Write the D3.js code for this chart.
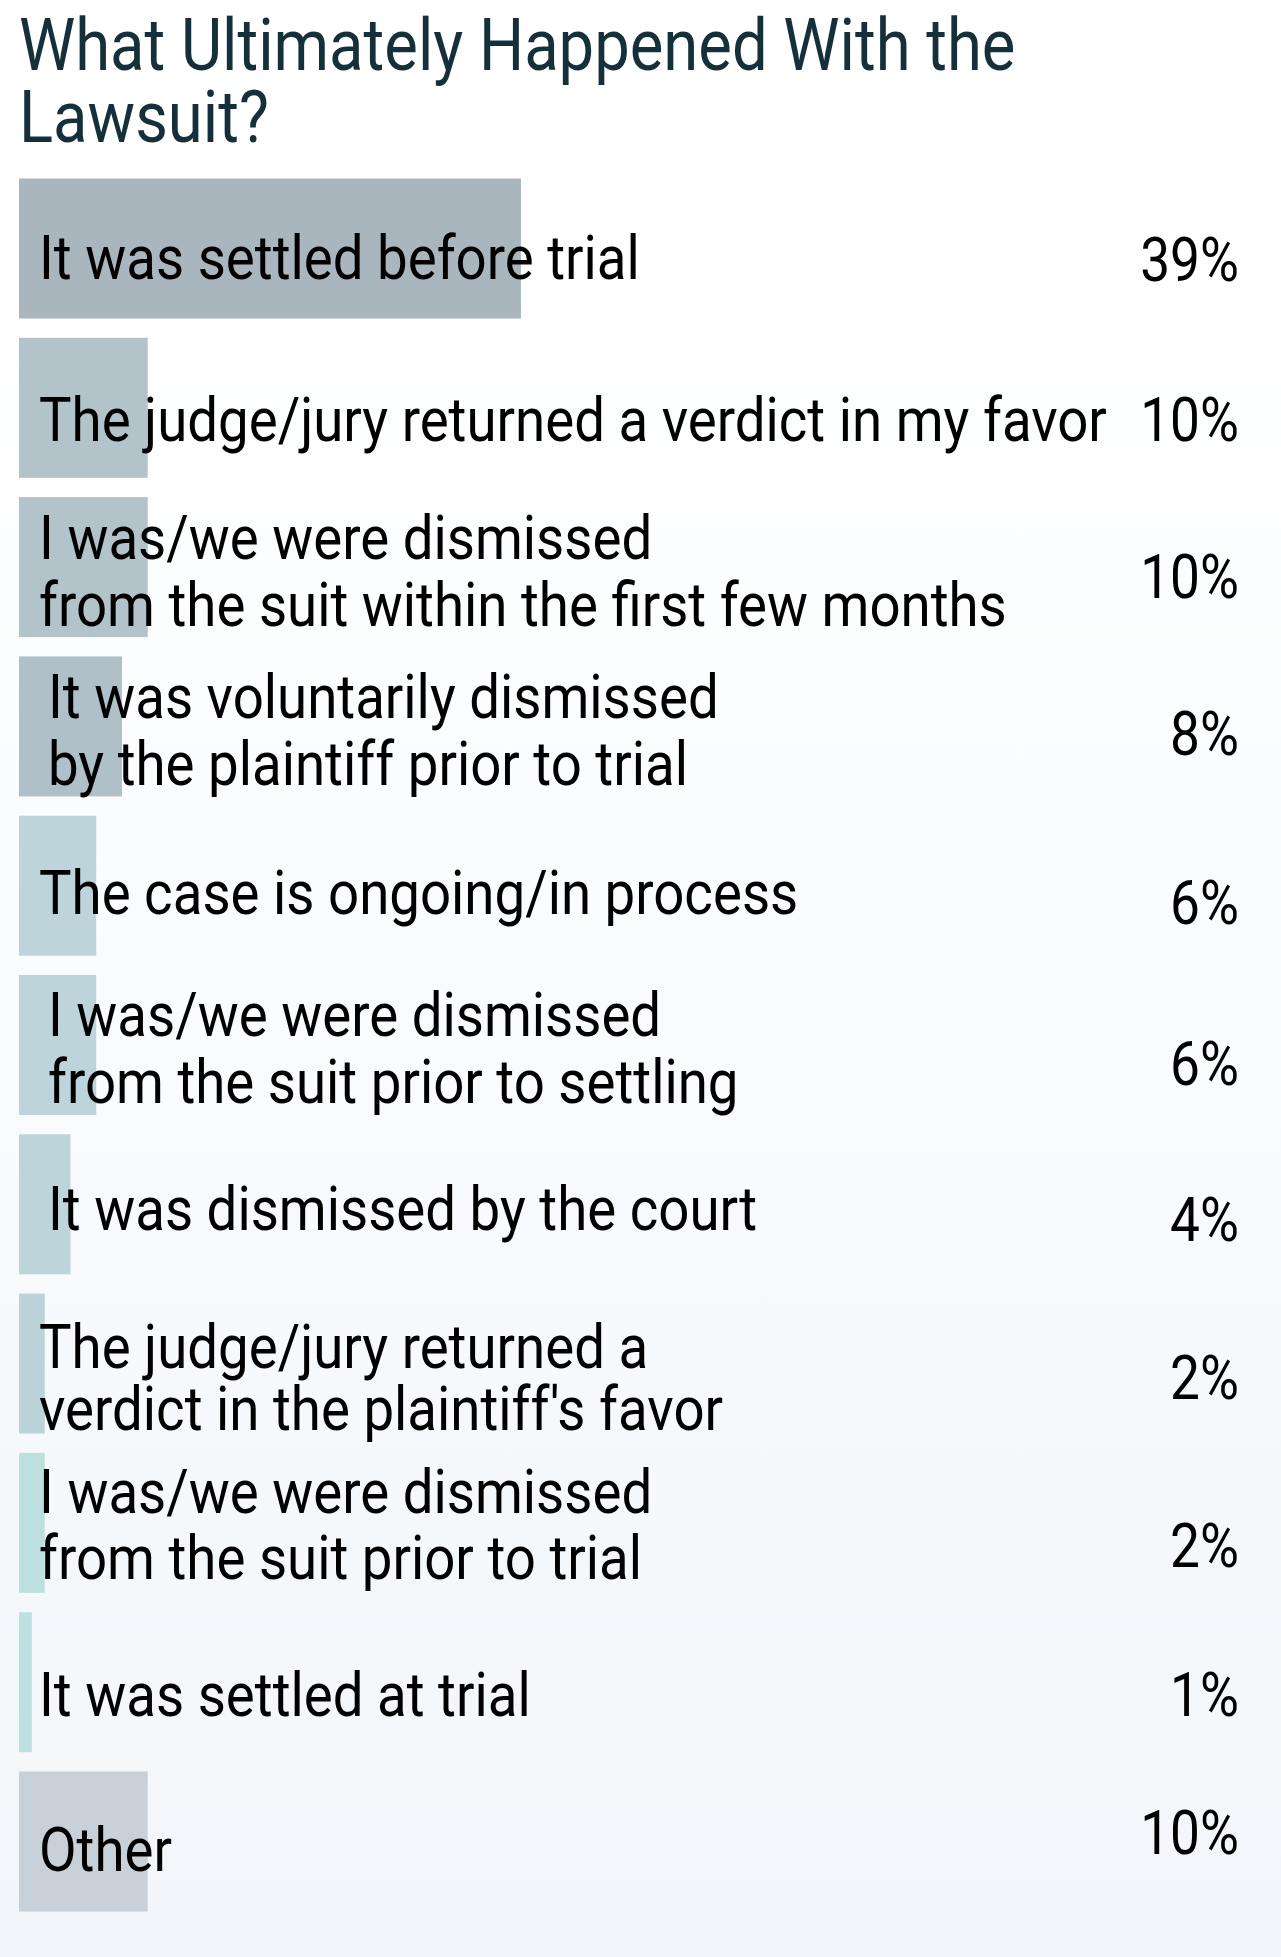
<!DOCTYPE html>
<html>
<head>
  <meta charset="utf-8">
  <title>What Ultimately Happened With the Lawsuit?</title>
  <script src="https://cdn.jsdelivr.net/npm/d3@7/dist/d3.min.js"></script>
  <style>
    body { margin: 0; background: #fff; }
    svg { display: block; }
    text { font-family: Roboto, "Noto Sans", sans-serif; }
    .title { fill: #15303b; font-size: 72px; }
    .label, .pct { fill: #000; font-size: 61px; }
  </style>
</head>
<body>
  <svg id="chart"></svg>
  <script>
    // answers, top to bottom (leading spaces are in the original labels)
    var categories = [
      'It was settled before trial',
      'The judge/jury returned a verdict in my favor',
      'I was/we were dismissed\nfrom the suit within the first few months',
      ' It was voluntarily dismissed\n by the plaintiff prior to trial',
      'The case is ongoing/in process',
      ' I was/we were dismissed\n from the suit prior to settling',
      ' It was dismissed by the court',
      'The judge/jury returned a\nverdict in the plaintiff\'s favor',
      'I was/we were dismissed\nfrom the suit prior to trial',
      'It was settled at trial',
      'Other'
    ];
    var values = [39, 10, 10, 8, 6, 6, 4, 2, 2, 1, 10];
    var valueLabels = ['39%', '10%', '10%', '8%', '6%', '6%', '4%', '2%', '2%', '1%', '10%'];

    var barColors = ['#a9b6be', '#b2c3ca', '#b3c3ca', '#afc0c8', '#bcd4da', '#bcd4da',
      '#bcd4da', '#bcd3da', '#bde0df', '#bde0e0', '#c8d0d8'];
    // baseline of first label line / value label, measured from the bar top
    var labelDy = [100, 103, 62, 62, 98, 61, 96, 74, 60, 104, 100];
    var lineGap = [67, 67, 67, 67, 67, 67, 67, 62, 66, 67, 67];
    var pctDy = [102, 103, 101, 99, 108, 110, 107, 105, 114, 104, 83];

    var W = 1281, H = 1957;
    var squeeze = 0.895, titleSqueeze = 0.88, pctSqueeze = 0.873;

    var svg = d3.select('#chart')
      .attr('width', W)
      .attr('height', H);

    var grad = svg.append('defs').append('linearGradient')
      .attr('id', 'bg')
      .attr('x1', 0).attr('y1', 0).attr('x2', 0).attr('y2', 1);
    grad.append('stop').attr('offset', '0.12').attr('stop-color', '#ffffff');
    grad.append('stop').attr('offset', '1').attr('stop-color', '#f2f6fa');

    svg.append('rect')
      .attr('width', W)
      .attr('height', H)
      .attr('fill', 'url(#bg)');

    var title = svg.append('text')
      .attr('class', 'title')
      .attr('transform', 'translate(19,0) scale(' + titleSqueeze + ',1)');
    title.append('tspan').attr('x', 0).attr('y', 70).text('What Ultimately Happened With the');
    title.append('tspan').attr('x', 0).attr('y', 142).text('Lawsuit?');

    var y = d3.scaleBand()
      .domain(d3.range(categories.length))
      .range([178.5, 1911.5])
      .paddingInner(0.121)
      .paddingOuter(0);

    var x = d3.scaleLinear()
      .domain([0, 100])
      .range([19, 19 + 1287]);

    svg.selectAll('rect.bar')
      .data(values)
      .enter()
      .append('rect')
      .attr('class', 'bar')
      .attr('x', x(0))
      .attr('y', (d, i) => y(i))
      .attr('width', d => x(d) - x(0))
      .attr('height', y.bandwidth())
      .style('fill', (d, i) => barColors[i]);

    var labels = svg.selectAll('text.label')
      .data(categories)
      .enter()
      .append('text')
      .attr('class', 'label')
      .attr('transform', (d, i) => 'translate(39,' + (y(i) + labelDy[i]) + ') scale(' + squeeze + ',1)');

    labels.each(function (d, i) {
      var t = d3.select(this);
      d.split('\n').forEach((line, k) => {
        // a leading space in the label shows as a small indent
        var indent = line.charAt(0) === ' ' ? 10 : 0;
        t.append('tspan')
          .attr('x', indent)
          .attr('y', k * lineGap[i])
          .text(line.trim());
      });
    });

    svg.selectAll('text.pct')
      .data(valueLabels)
      .enter()
      .append('text')
      .attr('class', 'pct')
      .attr('text-anchor', 'end')
      .attr('transform', (d, i) => 'translate(1239,' + (y(i) + pctDy[i]) + ') scale(' + pctSqueeze + ',1)')
      .text(d => d);
  </script>
</body>
</html>
